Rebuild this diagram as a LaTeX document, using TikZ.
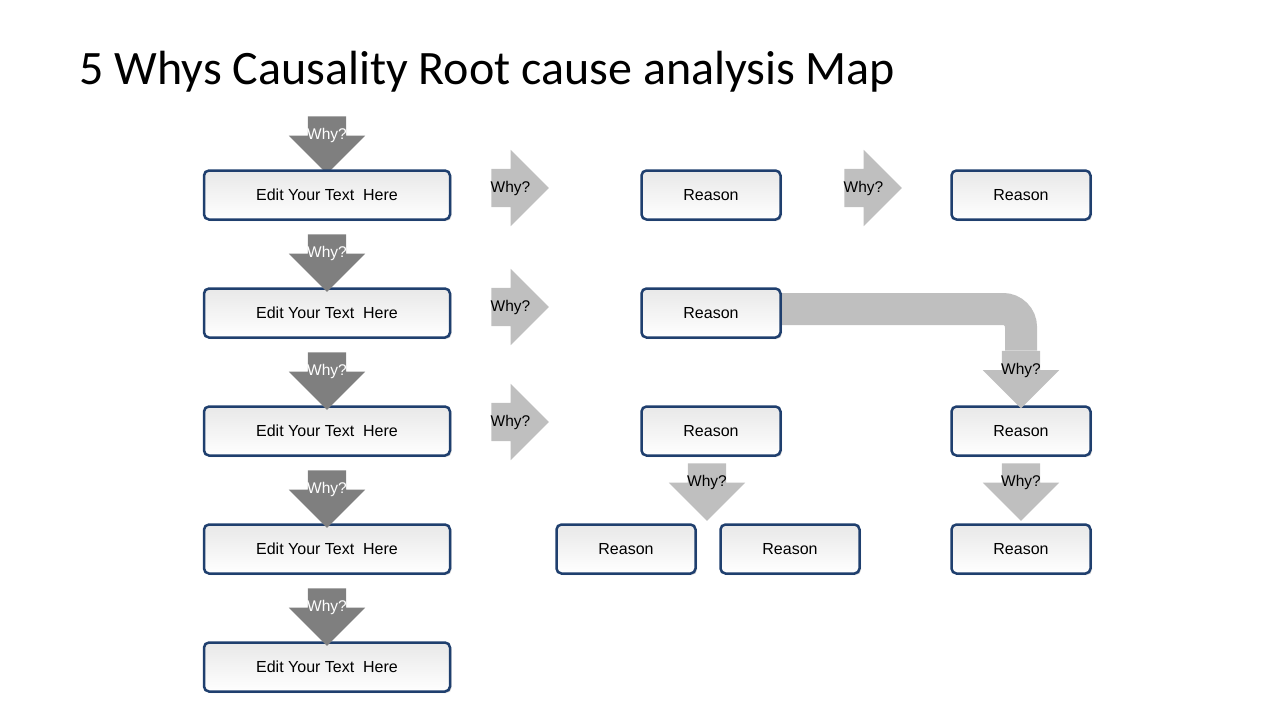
\documentclass[tikz,border=0pt]{standalone}
\usepackage{fontspec}
\setmainfont{Liberation Sans}
\newfontfamily\titlefont{Carlito}
\usetikzlibrary{shapes.arrows,shadows,backgrounds}
\definecolor{boxedge}{HTML}{1F3F6E}
\definecolor{darkwhy}{HTML}{7F7F7F}
\definecolor{lightwhy}{HTML}{BFBFBF}
\begin{document}
\begin{tikzpicture}[x=1pt,y=-1pt]
    \tikzset{
        box/.style={rectangle, rounded corners=5pt, draw=boxedge, line width=2.5pt,
            top color=gray!18, bottom color=white, drop shadow={opacity=0.3, shadow xshift=1.5pt, shadow yshift=-1.5pt},
            minimum height=49pt, font=\fontsize{16}{19}\selectfont},
        edit/.style={box, minimum width=246pt},
        reason/.style={box, minimum width=139pt},
        why/.style={single arrow, single arrow head extend=19pt, single arrow head indent=0pt,
            inner sep=19pt, font=\fontsize{15.5}{18}\selectfont},
        whydown/.style={why, fill=darkwhy, shape border rotate=270, minimum height=53pt,
            label={[text=white, font=\fontsize{15.5}{18}\selectfont]center:Why?}},
        whylight/.style={why, fill=lightwhy, shape border rotate=270, minimum height=49pt,
            label={[font=\fontsize{15.5}{18}\selectfont]center:Why?}},
        whyright/.style={why, fill=lightwhy, minimum height=53pt,
            label={[font=\fontsize{15.5}{18}\selectfont]center:Why?}}
    }
    \useasboundingbox (0,0) rectangle (1280,720);
    \node [anchor=base west, font=\titlefont\fontsize{48}{54}\selectfont] (title) at (76,84) {5 Whys Causality Root cause analysis Map};

    % left column
    \node [whydown] (w0) at (327,135.5) {};
    \foreach \i/\y in {1/195,2/313,3/431,4/549,5/667}
        \node [edit] (e\i) at (327,\y) {Edit Your Text \ Here};
    \foreach \i/\y in {1/253.5,2/371.5,3/489.5,4/607.5}
        \node [whydown] (wd\i) at (327,\y) {};

    % right arrows
    \node [whyright] (wr1) at (510.5,188) {};
    \node [whyright] (wr2) at (510.5,307) {};
    \node [whyright] (wr3) at (510.5,422) {};
    \node [whyright] (wr4) at (863.5,188) {};

    % reasons
    \node [reason] (r1) at (711,195) {Reason};
    \node [reason] (r2) at (711,313) {Reason};
    \node [reason] (r3) at (711,431) {Reason};
    \node [reason] (r4) at (1021,195) {Reason};
    \node [reason] (r5) at (1021,431) {Reason};
    \node [reason] (r6) at (626,549) {Reason};
    \node [reason] (r7) at (790,549) {Reason};
    \node [reason] (r8) at (1021,549) {Reason};

    % bent connector
    \coordinate (bend) at (1021,309);
    \node [whylight, minimum height=40pt] (wb) at (1021,370) {};
    \begin{pgfonlayer}{background}
        \draw [lightwhy, line width=32pt, rounded corners=18pt] (r2.center |- bend) -- (bend) -- (wb.north);
    \end{pgfonlayer}

    \node [whylight] (wl1) at (707,482.5) {};
    \node [whylight] (wl2) at (1021,482.5) {};
\end{tikzpicture}
\end{document}
